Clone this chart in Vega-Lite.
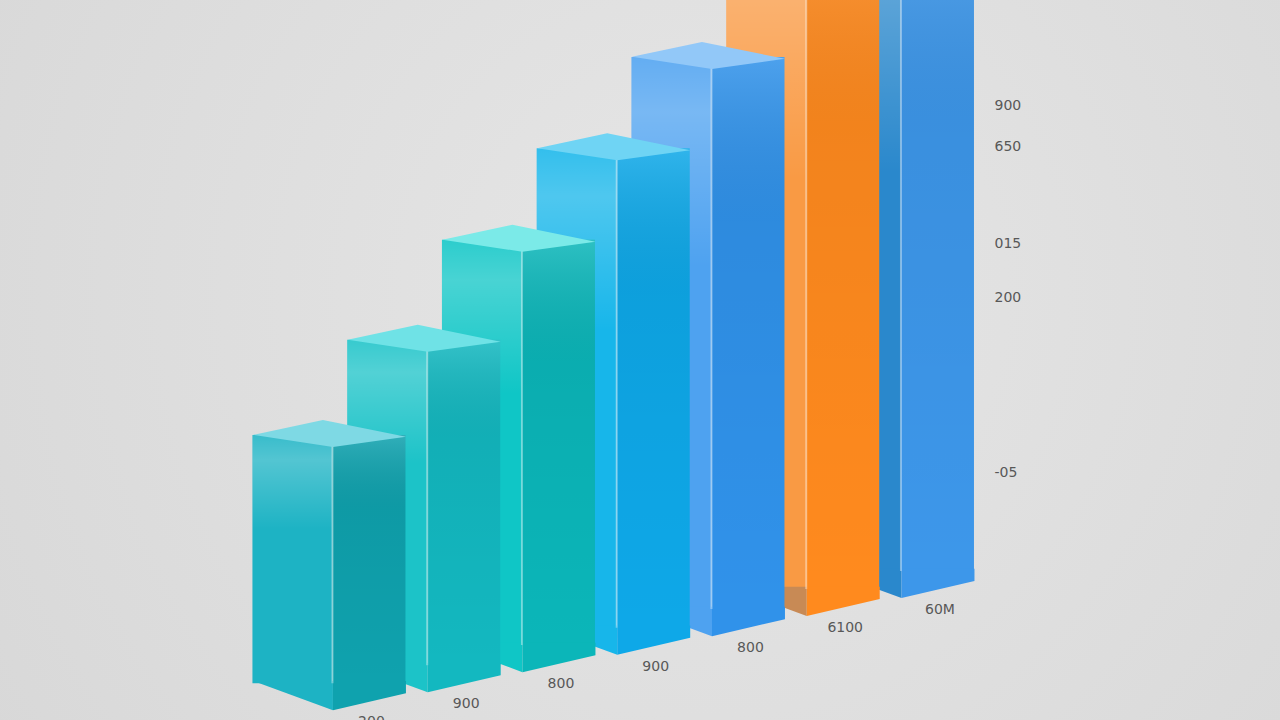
{
  "$schema": "https://vega.github.io/schema/vega-lite/v6.json",
  "width": 1280,
  "height": 720,
  "padding": 0,
  "autosize": {"type": "fit", "contains": "padding"},
  "background": "#d8d8d8",
  "config": {
    "view": {
      "stroke": null,
      "fill": {
        "gradient": "radial",
        "x1": 0.55, "y1": 0.45, "r1": 0,
        "x2": 0.55, "y2": 0.45, "r2": 0.75,
        "stops": [
          {"offset": 0, "color": "#e6e6e6"},
          {"offset": 1, "color": "#d6d6d6"}
        ]
      }
    }
  },
  "data": {
    "values": [
      {"bar": "1", "pos": 1, "base": 51, "top": 396, "label": "200"},
      {"bar": "2", "pos": 2, "base": 76, "top": 528, "label": "900"},
      {"bar": "3", "pos": 3, "base": 104, "top": 667, "label": "800"},
      {"bar": "4", "pos": 4, "base": 128, "top": 794, "label": "900"},
      {"bar": "5", "pos": 5, "base": 154, "top": 921, "label": "800"},
      {"bar": "6", "pos": 6, "base": 182, "top": 1100, "label": "6100"},
      {"bar": "7", "pos": 7, "base": 207, "top": 1100, "label": "60M"}
    ]
  },
  "encoding": {
    "x": {"field": "pos", "type": "quantitative", "scale": {"domain": [-2.424, 10.979], "nice": false, "zero": false}, "axis": null},
    "y": {
      "field": "top", "type": "quantitative",
      "scale": {"domain": [0, 1000], "nice": false, "zero": false},
      "axis": {
        "orient": "right", "offset": -286,
        "values": [854, 797, 662, 587, 344],
        "domain": false, "ticks": false, "grid": false, "labelPadding": 0,
        "labelFont": "DejaVu Sans", "labelFontSize": 14, "labelColor": "#585858", "labelAlign": "left",
        "labelExpr": "datum.value == 854 ? '900' : datum.value == 797 ? '650' : datum.value == 662 ? '015' : datum.value == 587 ? '200' : '-05'",
        "title": null
      }
    }
  },
  "resolve": {"scale": {"color": "independent"}},
  "layer": [
    {
      "mark": {"type": "bar", "width": 80, "xOffset": -37, "clip": true},
      "encoding": {
        "y2": {"field": "base"},
        "color": {
          "field": "bar", "type": "nominal", "legend": null,
          "scale": {"domain": ["1","2","3","4","5","6","7"], "range": ["#1db3c4","#1cc3c8","#0fc6c6","#17b6ea","#4ea2f0","#f99a44","#2a88cc"]}
        }
      }
    },
    {
      "mark": {
        "type": "bar", "width": 80, "xOffset": -37, "clip": true,
        "fill": {
          "gradient": "linear", "x1": 0, "y1": 0, "x2": 0, "y2": 1,
          "stops": [
            {"offset": 0, "color": "rgba(255,255,255,0.12)"},
            {"offset": 0.1, "color": "rgba(255,255,255,0.24)"},
            {"offset": 0.38, "color": "rgba(255,255,255,0)"},
            {"offset": 1, "color": "rgba(255,255,255,0)"}
          ]
        }
      },
      "encoding": {"y2": {"field": "base"}}
    },
    {
      "mark": {"type": "point", "filled": true, "opacity": 1, "clip": true, "size": 23409, "strokeWidth": 0, "shape": "M-1,-0.03L0.046,-0.03L0.046,0.353Z"},
      "encoding": {
        "y": {"field": "base", "type": "quantitative"},
        "color": {
          "field": "bar", "type": "nominal", "legend": null,
          "scale": {"domain": ["1","2","3","4","5","6","7"], "range": ["#1db3c4","#1cc3c8","#0fc6c6","#17b6ea","#4ea2f0","#c88a55","#2a88cc"]}
        }
      }
    },
    {
      "mark": {"type": "bar", "width": 73, "xOffset": 39.5, "clip": true},
      "encoding": {
        "y2": {"field": "base"},
        "color": {
          "field": "bar", "type": "nominal", "legend": null,
          "scale": {"domain": ["1","2","3","4","5","6","7"], "range": ["#0fa2ae","#13b8c0","#0bb6b9","#0ea8e8","#3092ea","#ff8a1e","#3d97ea"]}
        }
      }
    },
    {
      "mark": {
        "type": "bar", "width": 73, "xOffset": 39.5, "clip": true,
        "fill": {
          "gradient": "linear", "x1": 0, "y1": 0, "x2": 0, "y2": 1,
          "stops": [
            {"offset": 0, "color": "rgba(255,255,255,0.14)"},
            {"offset": 0.3, "color": "rgba(0,0,0,0.05)"},
            {"offset": 1, "color": "rgba(0,0,0,0.0)"}
          ]
        }
      },
      "encoding": {"y2": {"field": "base"}}
    },
    {
      "mark": {"type": "point", "filled": true, "opacity": 1, "clip": true, "size": 23409, "strokeWidth": 0, "shape": "M0.046,-0.03L1,-0.03L1,0.131L0.046,0.353Z"},
      "encoding": {
        "y": {"field": "base", "type": "quantitative"},
        "color": {
          "field": "bar", "type": "nominal", "legend": null,
          "scale": {"domain": ["1","2","3","4","5","6","7"], "range": ["#0fa2ae","#13b8c0","#0bb6b9","#0ea8e8","#3092ea","#ff8a1e","#3d97ea"]}
        }
      }
    },
    {
      "mark": {"type": "bar", "width": 2, "xOffset": 3, "clip": true, "color": "rgba(255,255,255,0.4)"},
      "encoding": {"y2": {"field": "base"}}
    },
    {
      "mark": {
        "type": "point", "filled": true, "opacity": 1, "clip": true, "size": 23409, "strokeWidth": 0, "yOffset": 12,
        "shape": "M-1,-0.157L0.046,0L1,-0.131L-0.085,-0.353Z"
      },
      "encoding": {
        "color": {
          "field": "bar", "type": "nominal", "legend": null,
          "scale": {"domain": ["1","2","3","4","5","6","7"], "range": ["#7ed9e4","#6fe2e6","#7beae8","#6fd4f4","#92c8f8","#ffc27a","#8cc0f0"]}
        }
      }
    },
    {
      "mark": {
        "type": "text", "clip": true, "dx": 42, "dy": 39, "baseline": "middle",
        "font": "DejaVu Sans", "fontSize": 14, "color": "#585858"
      },
      "encoding": {
        "y": {"field": "base", "type": "quantitative"},
        "text": {"field": "label"}
      }
    }
  ]
}
